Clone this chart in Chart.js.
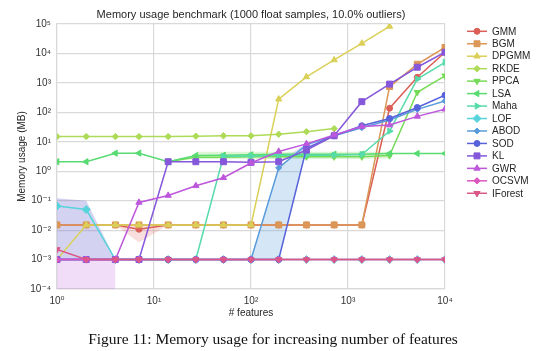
<!DOCTYPE html>
<html>
<head>
<meta charset="utf-8">
<script src="https://cdn.jsdelivr.net/npm/chart.js@4.4.1/dist/chart.umd.min.js"></script>
<style>
  html, body { margin: 0; padding: 0; background: #fff; }
  #chart { display: block; }
</style>
</head>
<body>
<canvas id="chart" width="552" height="351"></canvas>
<script>
'use strict';

/* Data */
const features = [1, 2, 4, 7, 14, 27, 52, 100, 193, 373, 720, 1389, 2683, 5179, 10000];
const names = ['GMM', 'BGM', 'DPGMM', 'RKDE', 'PPCA', 'LSA', 'Maha', 'LOF', 'ABOD', 'SOD', 'KL', 'GWR', 'OCSVM', 'IForest'];

const gmm = [0.015, 0.015, 0.015, 0.0107, 0.015, 0.015, 0.015, 0.015, 0.015, 0.015, 0.015, 0.015, 138, 1550, 11000];
const bgm = [0.015, 0.015, 0.015, 0.015, 0.015, 0.015, 0.015, 0.015, 0.015, 0.015, 0.015, 0.015, 750, 4300, 16000];
const dpgmm = [0.001, 0.015, 0.015, 0.015, 0.015, 0.015, 0.015, 0.015, 280, 1600, 6000, 22000, 83000, null, null];
const rkde = [15, 15, 15, 15, 15, 15.5, 16, 16, 18, 22, 28, null, null, null, null];
const ppca = [null, null, null, null, 2.1, 3.0, 3.0, 3.1, 3.1, 3.1, 3.1, 3.1, 3.4, 480, 1740];
const lsa = [2.1, 2.1, 4.1, 4.1, 2.1, 3.4, 3.5, 3.6, 3.8, 3.8, 3.8, 3.8, 4.0, 4.0, 4.0];
const maha = [0.001, 0.001, 0.001, 0.001, 0.001, 0.001, 3.2, 3.3, 3.5, 3.5, 3.5, 3.7, 23, 1350, 5000];
const lof = [0.066, 0.05, 0.001, 0.001, 0.001, 0.001, 0.001, 0.001, 0.001, 0.001, 0.001, 0.001, 0.001, 0.001, 0.001];
const abod = [0.001, 0.001, 0.001, 0.001, 0.001, 0.001, 0.001, 0.001, 1.3, 8, 16, 30, 55, 126, 245];
const sod = [0.001, 0.001, 0.001, 0.001, 0.001, 0.001, 0.001, 0.001, 0.001, 6, 16, 35, 62, 146, 380];
const kl = [0.001, 0.001, 0.001, 0.001, 2.1, 2.1, 2.1, 2.0, 2.1, 5.2, 16, 230, 910, 3400, 11000];
const gwr = [0.001, 0.001, 0.001, 0.087, 0.15, 0.32, 0.6, 1.9, 4.7, 8.5, 17, 33, 37, 73, 128];
const ocsvm = [0.001, 0.001, 0.001, 0.001, 0.001, 0.001, 0.001, 0.001, 0.001, 0.001, 0.001, 0.001, 0.001, 0.001, 0.001];
const iforest = [0.0022, 0.001, 0.001, 0.001, 0.001, 0.001, 0.001, 0.001, 0.001, 0.001, 0.001, 0.001, 0.001, 0.001, 0.001];

/* spread bands (mean +/- std), null where no band shows */
const gwrBandLo = [1e-6, 1e-6, 1e-6, null, null, null, null, null, null, null, null, null, null, null, null];
const gwrBandHi = [0.001, 0.001, 0.001, null, null, null, null, null, null, null, null, null, null, null, null];
const lofBandLo = [0.001, 0.001, 0.001, null, null, null, null, null, null, null, null, null, null, null, null];
const lofBandHi = [0.12, 0.1, 0.001, null, null, null, null, null, null, null, null, null, null, null, null];
const gmmBandLo = [null, null, 0.015, 0.0038, 0.015, null, null, null, null, null, null, null, null, null, null];
const gmmBandHi = [null, null, 0.015, 0.016, 0.015, null, null, null, null, null, null, null, null, null, null];
const abodBandLo = [null, null, null, null, null, null, null, 0.001, 0.001, 5.5, null, null, null, null, null];
const abodBandHi = [null, null, null, null, null, null, null, 0.001, 1.3, 8, null, null, null, null, null];
const ppcaBandLo = [null, null, null, null, null, 2.6, 2.6, 2.6, 2.6, 2.6, 2.6, 2.6, 2.7, null, null];
const ppcaBandHi = [null, null, null, null, null, 4.6, 4.6, 4.6, 4.6, 4.6, 4.6, 4.6, 4.6, null, null];
const klBandLo = [null, null, null, null, null, null, null, null, 2.1, 4.8, 16, null, null, null, null];
const klBandHi = [null, null, null, null, null, null, null, null, 2.1, 9, 16, null, null, null, null];

const series = [gmm, bgm, dpgmm, rkde, ppca, lsa, maha, lof, abod, sod, kl, gwr, ocsvm, iforest];

// marker for each method: [pointStyle, rotation, radius]
const markers = [
  ['circle', 0, 3], ['rect', 0, 4.2], ['triangle', 0, 3.6], ['rectRot', 0, 3.2],
  ['triangle', 180, 3.6], ['triangle', -90, 3.6], ['triangle', 90, 3.6], ['rectRot', 0, 4],
  ['rectRot', 0, 3], ['circle', 0, 3], ['rect', 0, 4.2], ['triangle', 0, 3.6],
  ['rectRot', 0, 3.2], ['triangle', 180, 3.6]
];

const hue = (i) => (0.01 + i / 14) * 360;
const colorOf = (i, a) => a === undefined
  ? `hsl(${hue(i)}, 65%, 60%)`
  : `hsla(${hue(i)}, 65%, 60%, ${a})`;

const toPoints = (arr) => features.map((x, i) => ({ x: x, y: arr[i] }));

const datasets = [];
series.forEach((arr, i) => {
  datasets.push({
    label: names[i],
    data: toPoints(arr),
    borderColor: colorOf(i),
    backgroundColor: colorOf(i),
    pointBackgroundColor: colorOf(i),
    pointBorderColor: colorOf(i),
    borderWidth: 1.5,
    pointStyle: markers[i][0],
    pointRotation: markers[i][1],
    pointRadius: markers[i][2],
    pointBorderWidth: 1,
    fill: false,
    spanGaps: false,
    order: 50 - i
  });
});

// band pairs: [lo, hi, fill colour]
const bands = [
  [gwrBandLo, gwrBandHi, colorOf(11, 0.2)],
  [lofBandLo, lofBandHi, 'rgba(110, 110, 210, 0.3)'],
  [gmmBandLo, gmmBandHi, colorOf(0, 0.2)],
  [abodBandLo, abodBandHi, colorOf(8, 0.25)],
  [ppcaBandLo, ppcaBandHi, colorOf(4, 0.25)],
  [klBandLo, klBandHi, colorOf(10, 0.2)]
];
bands.forEach((b) => {
  const loIndex = datasets.length;
  datasets.push({
    label: '_band', data: toPoints(b[0]), borderWidth: 0, pointRadius: 0,
    fill: false, spanGaps: false, order: 100, isBand: true
  });
  datasets.push({
    label: '_band', data: toPoints(b[1]), borderWidth: 0, pointRadius: 0,
    backgroundColor: b[2], fill: { target: loIndex }, spanGaps: false, order: 100, isBand: true
  });
});

const sup = { '0': '\u2070', '1': '\u00b9', '2': '\u00b2', '3': '\u00b3', '4': '\u2074', '5': '\u2075', '-': '\u207b' };
const powLabel = (v) => '10' + String(Math.round(Math.log10(v))).split('').map((c) => sup[c]).join('');

const tickFont = { family: '"Liberation Sans", "DejaVu Sans", sans-serif', size: 10 };
const sansFont = '"Liberation Sans", Arial, sans-serif';

const overlay = {
  id: 'overlay',
  afterDraw(chart) {
    const ctx = chart.ctx;
    const a = chart.chartArea;
    const cx = (a.left + a.right) / 2;
    ctx.save();
    ctx.fillStyle = '#262626';
    ctx.textAlign = 'center';
    ctx.textBaseline = 'middle';
    ctx.font = '11px ' + sansFont;
    ctx.fillText('Memory usage benchmark (1000 float samples, 10.0% outliers)', cx, 15);
    ctx.font = '10px ' + sansFont;
    ctx.fillText('# features', cx, 313);
    ctx.save();
    ctx.translate(22, (a.top + a.bottom) / 2);
    ctx.rotate(-Math.PI / 2);
    ctx.fillText('Memory usage (MB)', 0, 0);
    ctx.restore();

    // legend with line + marker
    chart.data.datasets.forEach((ds, i) => {
      if (ds.isBand) return;
      const y = 31.3 + i * 12.46;
      ctx.strokeStyle = ds.borderColor;
      ctx.fillStyle = ds.borderColor;
      ctx.lineWidth = 1.5;
      ctx.beginPath();
      ctx.moveTo(467, y);
      ctx.lineTo(487, y);
      ctx.stroke();
      ctx.lineWidth = 1;
      Chart.helpers.drawPoint(ctx, {
        pointStyle: ds.pointStyle, rotation: ds.pointRotation,
        radius: ds.pointRadius, borderWidth: 1
      }, 477, y);
      ctx.fillStyle = '#262626';
      ctx.textAlign = 'left';
      ctx.font = '10px ' + sansFont;
      ctx.fillText(ds.label, 492, y + 0.5);
    });

    // figure caption
    const caption = 'Figure 11: Memory usage for increasing number of features';
    ctx.font = '14px "Liberation Serif", "DejaVu Serif", serif';
    const w = ctx.measureText(caption).width;
    const size = 14 * 370 / w;
    ctx.font = size.toFixed(2) + 'px "Liberation Serif", "DejaVu Serif", serif';
    ctx.textAlign = 'center';
    ctx.fillStyle = '#111';
    ctx.fillText(caption, 273, 340);
    ctx.restore();
  }
};

new Chart(document.getElementById('chart'), {
  type: 'line',
  data: { datasets: datasets },
  options: {
    responsive: false,
    animation: false,
    devicePixelRatio: 1,
    layout: { padding: { top: 24, right: 107, left: 0, bottom: 0 } },
    plugins: {
      legend: { display: false },
      title: { display: false },
      tooltip: { enabled: false }
    },
    elements: { line: { tension: 0 } },
    scales: {
      x: {
        type: 'logarithmic',
        min: 1,
        max: 10000,
        afterBuildTicks: (scale) => { scale.ticks = [1, 10, 100, 1000, 10000].map((v) => ({ value: v })); },
        afterFit: (scale) => { scale.height = 62; },
        ticks: { callback: (v) => powLabel(v), color: '#333', font: tickFont, padding: 6, maxRotation: 0, autoSkip: false },
        grid: { color: '#d9d9d9', lineWidth: 1.2, drawTicks: false },
        border: { display: true, color: '#d9d9d9', width: 1.2 }
      },
      y: {
        type: 'logarithmic',
        min: 1e-4,
        max: 1e5,
        afterBuildTicks: (scale) => {
          const t = [];
          for (let e = -4; e <= 5; e++) t.push({ value: Math.pow(10, e) });
          scale.ticks = t;
        },
        afterFit: (scale) => { scale.width = 57; },
        ticks: { callback: (v) => powLabel(v), color: '#333', font: tickFont, padding: 6, autoSkip: false },
        grid: { color: '#d9d9d9', lineWidth: 1.2, drawTicks: false },
        border: { display: true, color: '#d9d9d9', width: 1.2 }
      }
    }
  },
  plugins: [overlay]
});
</script>
</body>
</html>
